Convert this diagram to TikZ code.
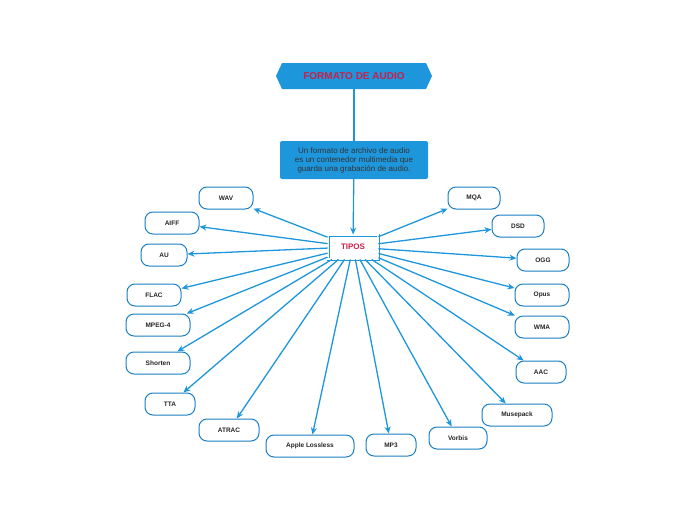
\documentclass[tikz,border=0pt]{standalone}
\usepackage{fontspec}
\setmainfont{Liberation Sans}
\usetikzlibrary{arrows.meta}
\definecolor{bl}{HTML}{1E96DC}
\definecolor{bd}{HTML}{1A7FC4}
\definecolor{rd}{HTML}{C8204A}
\begin{document}
\begin{tikzpicture}[x=1pt,y=-1pt,
  leaf/.style={draw=bd,line width=1pt,rounded corners=8pt,minimum height=22pt,fill=white,font=\bfseries\fontsize{6.5}{7}\selectfont,text=black!85},
  conn/.style={bl,line width=1.3pt,-{Stealth[length=7pt,width=6pt]}}]
\useasboundingbox (0,0) rectangle (697,520);
\fill[bl] (282,63)--(426,63)--(432,76)--(426,89)--(282,89)--(276,76)--cycle;
\node[font=\bfseries\fontsize{10}{11}\selectfont,text=rd] (title) at (354,76) {FORMATO DE AUDIO};
\node[fill=bl,rounded corners=2pt,minimum width=148pt,minimum height=38pt,align=center,inner sep=1pt,font=\fontsize{8}{9}\selectfont,text=black!80] (desc) at (354,160) {Un formato de archivo de audio\\es un contenedor multimedia que\\guarda una grabación de audio.};
\node[draw=bl,line width=0.9pt,double=white,double distance=1.2pt,fill=white,minimum width=50pt,minimum height=24pt,font=\bfseries\fontsize{8}{9}\selectfont,text=rd] (tipos) at (353,247) {TIPOS};
\draw[bl,line width=1.3pt] (title.south|-0,89) -- (desc.north);
\draw[conn] (desc) -- (tipos);
\foreach \n/\t/\x/\y/\w in {wav/WAV/226/198/54, aiff/AIFF/172/223/54, au/AU/164/255/46, flac/FLAC/154/295/54, mpeg/MPEG-4/158/325/64, shorten/Shorten/158/363/64, tta/TTA/170/404/50, atrac/ATRAC/229/430/60, apple/Apple Lossless/310/446/88, mp3/MP3/391/445/50, vorbis/Vorbis/458/438/58, muse/Musepack/517/415/70, aac/AAC/541/372/50, wma/WMA/542/327/54, opus/Opus/542/295/54, ogg/OGG/543/260/52, dsd/DSD/518/226/52, mqa/MQA/474/198/52}{
  \node[leaf,minimum width=\w pt] (\n) at (\x,\y) {\t};
  \draw[conn] (tipos) -- (\n);
}
\end{tikzpicture}
\end{document}
